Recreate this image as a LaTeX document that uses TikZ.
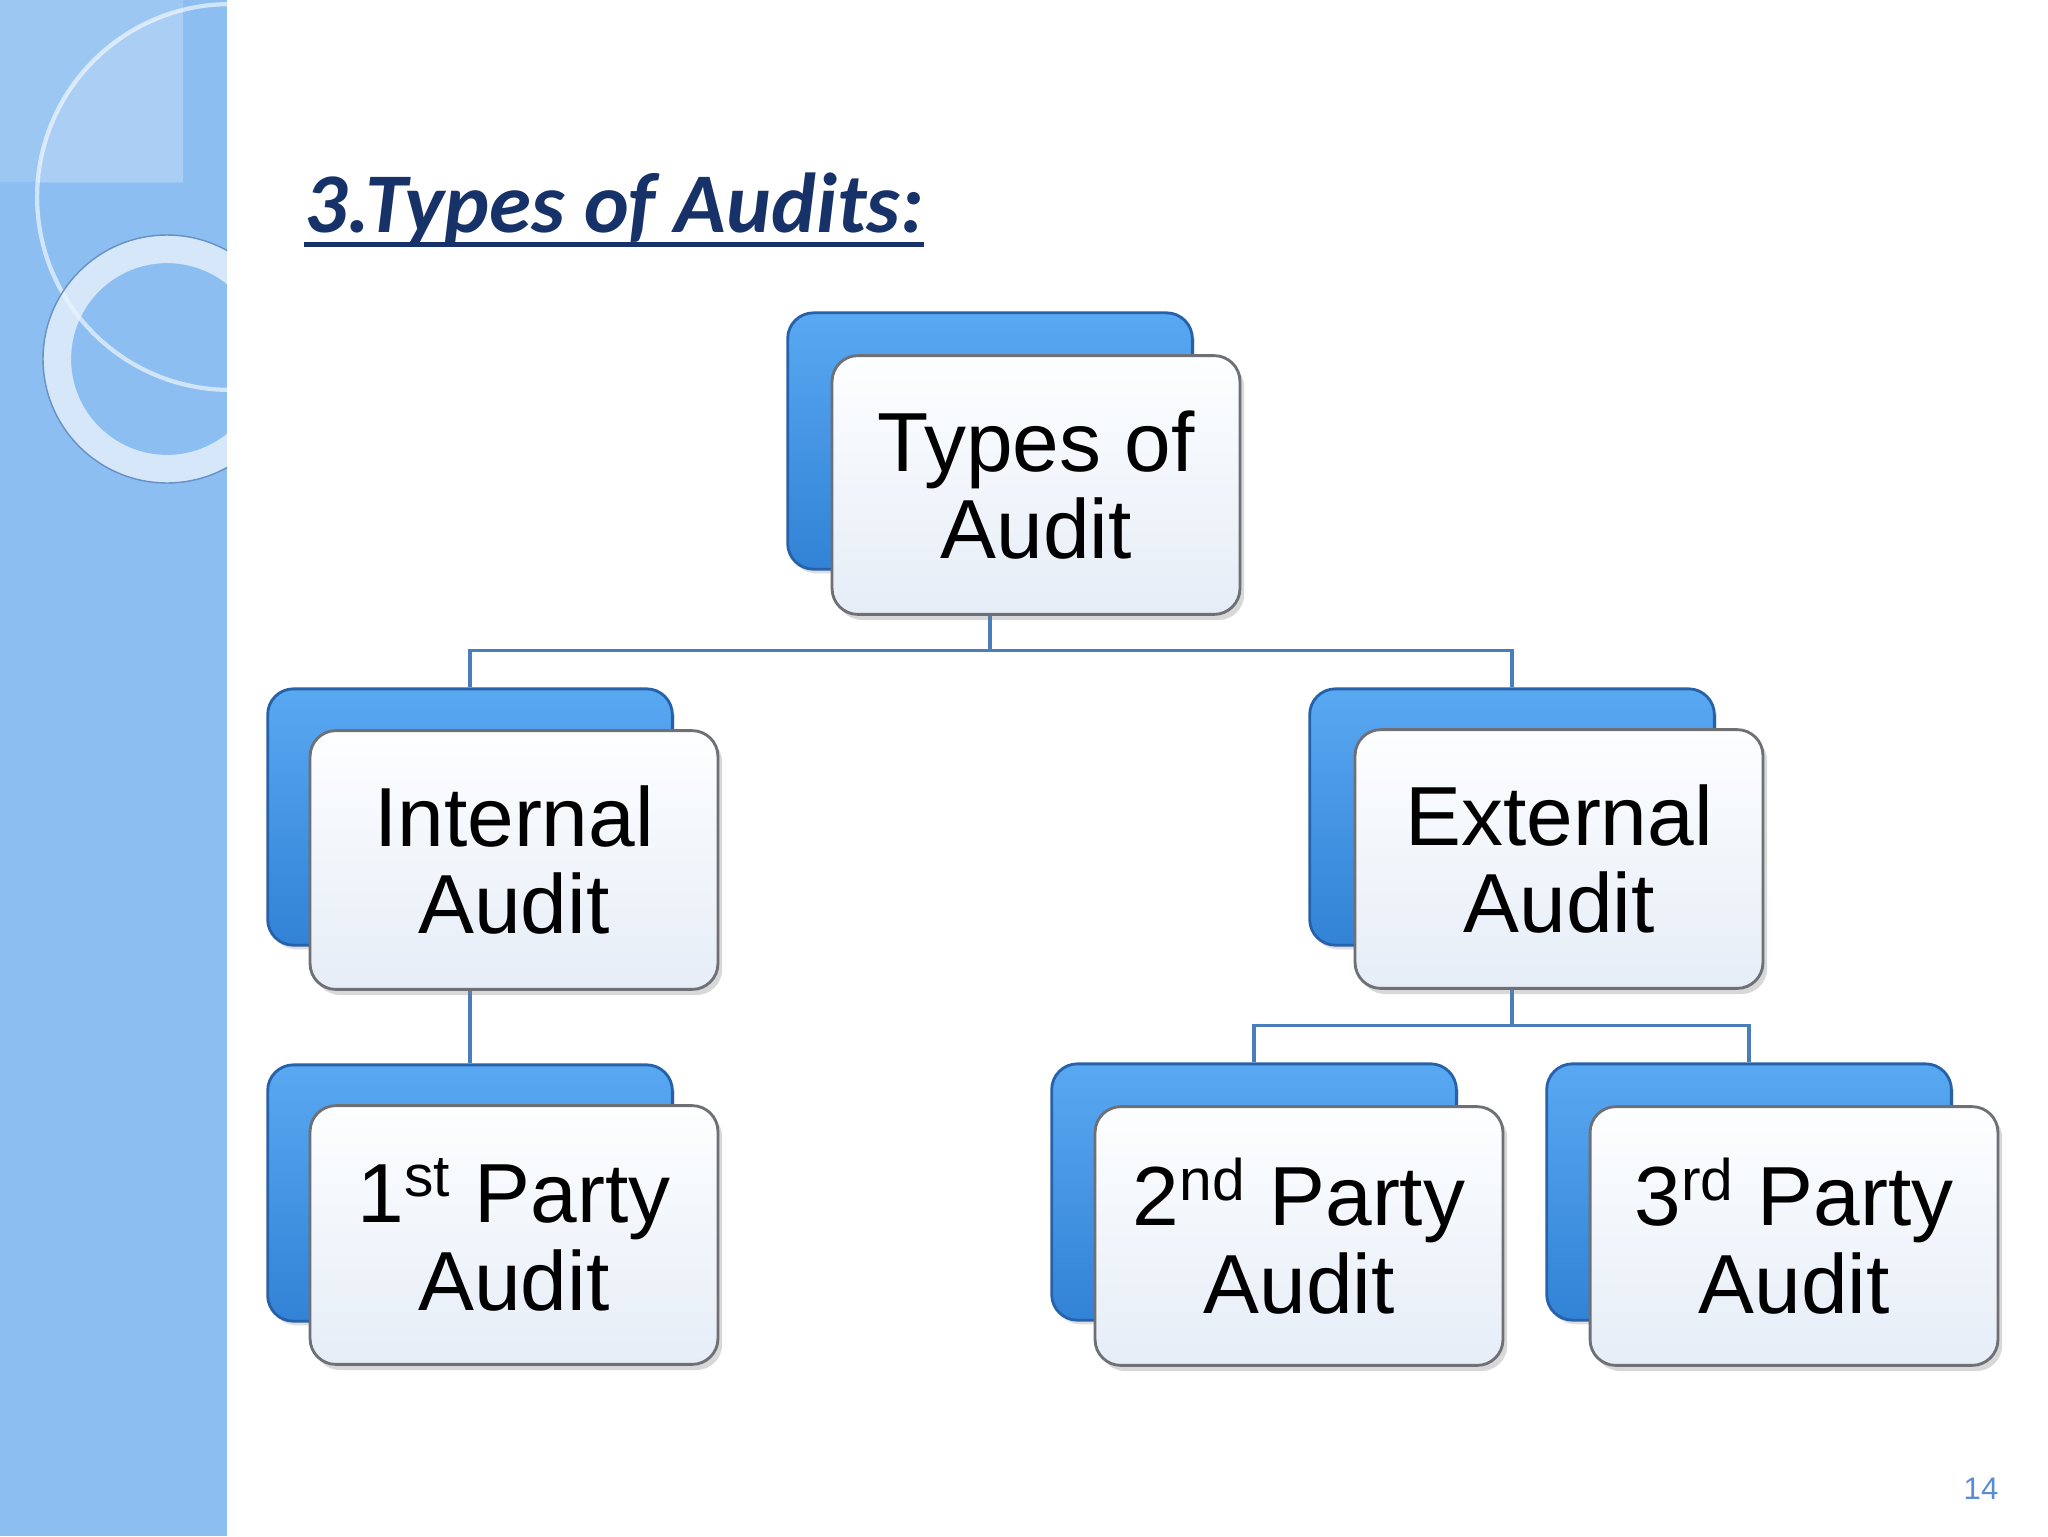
\documentclass[tikz,border=0pt]{standalone}
\usepackage{fontspec}
\setmainfont{Liberation Sans}
\newfontfamily\titlefont{Carlito}
\usetikzlibrary{backgrounds,shadows}

\definecolor{stripblue}{RGB}{140,190,241}
\definecolor{titlenavy}{RGB}{22,50,104}
\definecolor{linkblue}{RGB}{74,126,187}
\definecolor{boxtop}{RGB}{88,168,242}
\definecolor{boxbottom}{RGB}{50,130,214}
\definecolor{boxedge}{RGB}{38,98,170}
\definecolor{paneltop}{RGB}{253,254,255}
\definecolor{panelbottom}{RGB}{230,237,247}
\definecolor{paneledge}{RGB}{110,112,118}
\definecolor{pagenum}{RGB}{91,139,208}

\tikzset{
  backbox/.style={rounded corners=0.32cm, minimum width=5.02cm, minimum height=3.18cm,
    top color=boxtop, bottom color=boxbottom, draw=boxedge, line width=1pt,
    drop shadow={opacity=0.25, shadow xshift=1pt, shadow yshift=-1.5pt}},
  frontbox/.style={rounded corners=0.32cm, minimum width=5.06cm, minimum height=3.21cm,
    top color=paneltop, bottom color=panelbottom, draw=paneledge, line width=1pt,
    align=center, font=\fontsize{29.6}{31}\selectfont,
    drop shadow={opacity=0.3, shadow xshift=1.5pt, shadow yshift=-2pt}},
  link/.style={draw=linkblue, line width=1.2pt}
}

\begin{document}
\begin{tikzpicture}[x=0.0124cm, y=-0.0124cm]
    \useasboundingbox (0,0) rectangle (2048,1536);

    % Side strip
    \fill[stripblue] (0,0) rectangle (227,1536);
    \begin{scope}
        \clip (0,0) rectangle (227,1536);
        \fill[white, opacity=0.15] (0,0) rectangle (183,182);
        \begin{scope}
            \clip (0,0) rectangle (183,182);
            \fill[white, opacity=0.15] (230,197) circle (2.393cm);
        \end{scope}
        \draw[white, opacity=0.6, line width=1.5pt] (230,197) circle (2.393cm);
        \fill[white!85!stripblue, opacity=0.75, even odd rule]
            (167,359) circle (1.538cm) (167,359) circle (1.190cm);
        \draw[boxedge!70, line width=0.5pt] (167,359) circle (1.538cm);
    \end{scope}

    % Title
    \node[anchor=base west, inner sep=0, text=titlenavy,
          font=\titlefont\bfseries\itshape\fontsize{30}{36}\selectfont] (title) at (304,232) {3.Types of Audits:};
    \draw[titlenavy, line width=1.8pt] ([yshift=-4.5pt]title.base west) -- ([yshift=-4.5pt]title.base east);

    % Level 1
    \node[backbox] (topb) at (990,441) {};
    \node[frontbox] (top) at (1036,485) {Types of\\Audit};

    % Level 2
    \node[backbox] (intb) at (470,817) {};
    \node[frontbox] (int) at (514,860) {Internal\\Audit};
    \node[backbox] (extb) at (1512,817) {};
    \node[frontbox] (ext) at (1559,859) {External\\Audit};

    % Level 3
    \node[backbox] (firstb) at (470,1193) {};
    \node[frontbox] (first) at (514,1235) {1\textsuperscript{st} Party\\Audit};
    \node[backbox] (secondb) at (1254,1192) {};
    \node[frontbox] (second) at (1299,1236) {2\textsuperscript{nd} Party\\Audit};
    \node[backbox] (thirdb) at (1749,1192) {};
    \node[frontbox] (third) at (1794,1236) {3\textsuperscript{rd} Party\\Audit};

    % Connectors
    \begin{scope}[on background layer]
        \fill[white] (227,0) rectangle (2048,1536);
        \draw[link] (topb.south) -- ++(0,80) -| (intb.north);
        \draw[link] (topb.south) -- ++(0,80) -| (extb.north);
        \draw[link] (intb.south) -- (firstb.north);
        \draw[link] (extb.south) -- ++(0,79) -| (secondb.north);
        \draw[link] (extb.south) -- ++(0,79) -| (thirdb.north);
    \end{scope}

    % Page number
    \node[text=pagenum, font=\fontsize{11}{13}\selectfont] (pageno) at (1981,1489) {14};
\end{tikzpicture}
\end{document}
